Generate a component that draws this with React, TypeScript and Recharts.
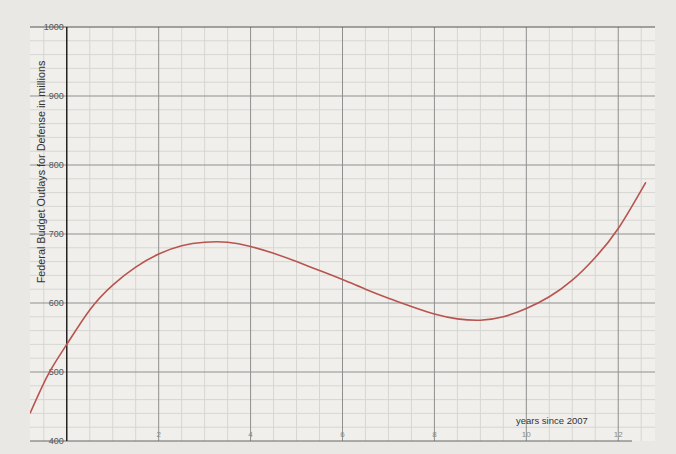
import { LineChart, Line, XAxis, YAxis, ReferenceLine, ReferenceArea } from "recharts";

const years = [-0.8, -0.4, 0, 0.5, 1, 1.5, 2, 2.5, 3, 3.5, 4, 4.5, 5, 5.5, 6, 6.5, 7, 7.5, 8, 8.5, 9, 9.5, 10, 10.5, 11, 11.5, 12, 12.6];
const outlays = [440, 497, 540, 590, 626, 652, 671, 683, 688, 688, 682, 672, 660, 647, 634, 620, 607, 595, 584, 577, 575, 580, 592, 609, 633, 666, 708, 775];

const xMinorTicks = [-0.5, 0.5, 1, 1.5, 2.5, 3, 3.5, 4.5, 5, 5.5, 6.5, 7, 7.5, 8.5, 9, 9.5, 10.5, 11, 11.5, 12.5];
const xMajorTicks = [2, 4, 6, 8, 10, 12];
const yMinorTicks = [420, 440, 460, 480, 520, 540, 560, 580, 620, 640, 660, 680, 720, 740, 760, 780, 820, 840, 860, 880, 920, 940, 960, 980];
const yMajorTicks = [500, 600, 700, 800, 900];
const yLabelTicks = [400, 500, 600, 700, 800, 900, 1000];

const data = years.map((x, i) => ({ x, y: outlays[i] }));

const W = 676;
const H = 454;
const M = { top: 27, right: 21, bottom: 13, left: 30 };
const X_MIN = -0.8;
const X_MAX = 12.8;
const PLOT_W = W - M.left - M.right;
const PLOT_H = H - M.top - M.bottom;
const AXIS_X = M.left + ((0 - X_MIN) / (X_MAX - X_MIN)) * PLOT_W;
const FONT = "Liberation Sans, Arial, sans-serif";

const yLabel = (v: number) => (props: any) => (
  <text x={AXIS_X - 3} y={props.viewBox.y + 3} textAnchor="end" fontSize={9} fill="#555" fontFamily={FONT}>
    {v}
  </text>
);

const xLabel = (v: number) => (props: any) => (
  <text x={props.viewBox.x} y={M.top + PLOT_H - 4} textAnchor="middle" fontSize={8} fill="#8a8a8a" fontFamily={FONT}>
    {v}
  </text>
);

export default function App() {
  return (
    <div style={{ position: "absolute", left: 0, top: 0, width: W, height: H, background: "#e9e8e4", fontFamily: FONT }}>
      <LineChart width={W} height={H} data={data} margin={M}>
        <XAxis
          type="number"
          dataKey="x"
          domain={[X_MIN, X_MAX]}
          allowDataOverflow
          height={0}
          axisLine={false}
          tickLine={false}
          tick={false}
        />
        <YAxis
          type="number"
          domain={[400, 1000]}
          allowDataOverflow
          width={0}
          axisLine={false}
          tickLine={false}
          tick={false}
        />
        <ReferenceArea x1={X_MIN} x2={X_MAX} y1={400} y2={1000} fill="#f0efeb" fillOpacity={1} stroke="none" />
        {xMinorTicks.map((v) => (
          <ReferenceLine key={"mx" + v} x={v} stroke="#d6d6d3" />
        ))}
        {yMinorTicks.map((v) => (
          <ReferenceLine key={"my" + v} y={v} stroke="#d6d6d3" />
        ))}
        {xMajorTicks.map((v) => (
          <ReferenceLine key={"vx" + v} x={v} stroke="#8f8f8f" label={{ content: xLabel(v) }} />
        ))}
        {yMajorTicks.map((v) => (
          <ReferenceLine key={"hy" + v} y={v} stroke="#8f8f8f" />
        ))}
        <ReferenceLine y={1000} stroke="#555" />
        <ReferenceLine segment={[{ x: X_MIN, y: 400 }, { x: 12.3, y: 400 }]} stroke="#666" />
        {yLabelTicks.map((v) => (
          <ReferenceLine key={"ly" + v} y={v} stroke="none" label={{ content: yLabel(v) }} />
        ))}
        <ReferenceLine x={0} stroke="#222" strokeWidth={1.5} />
        <Line type="natural" dataKey="y" stroke="#b8544f" strokeWidth={1.6} dot={false} isAnimationActive={false} />
      </LineChart>
      <div style={{ position: "absolute", left: 516, top: 415, fontSize: 9.5, color: "#333" }}>years since 2007</div>
      <div
        style={{
          position: "absolute",
          left: 41,
          top: 172,
          transform: "translate(-50%, -50%) rotate(-90deg)",
          whiteSpace: "nowrap",
          fontSize: 10.8,
          color: "#333",
        }}
      >
        Federal Budget Outlays for Defense in millions
      </div>
    </div>
  );
}
